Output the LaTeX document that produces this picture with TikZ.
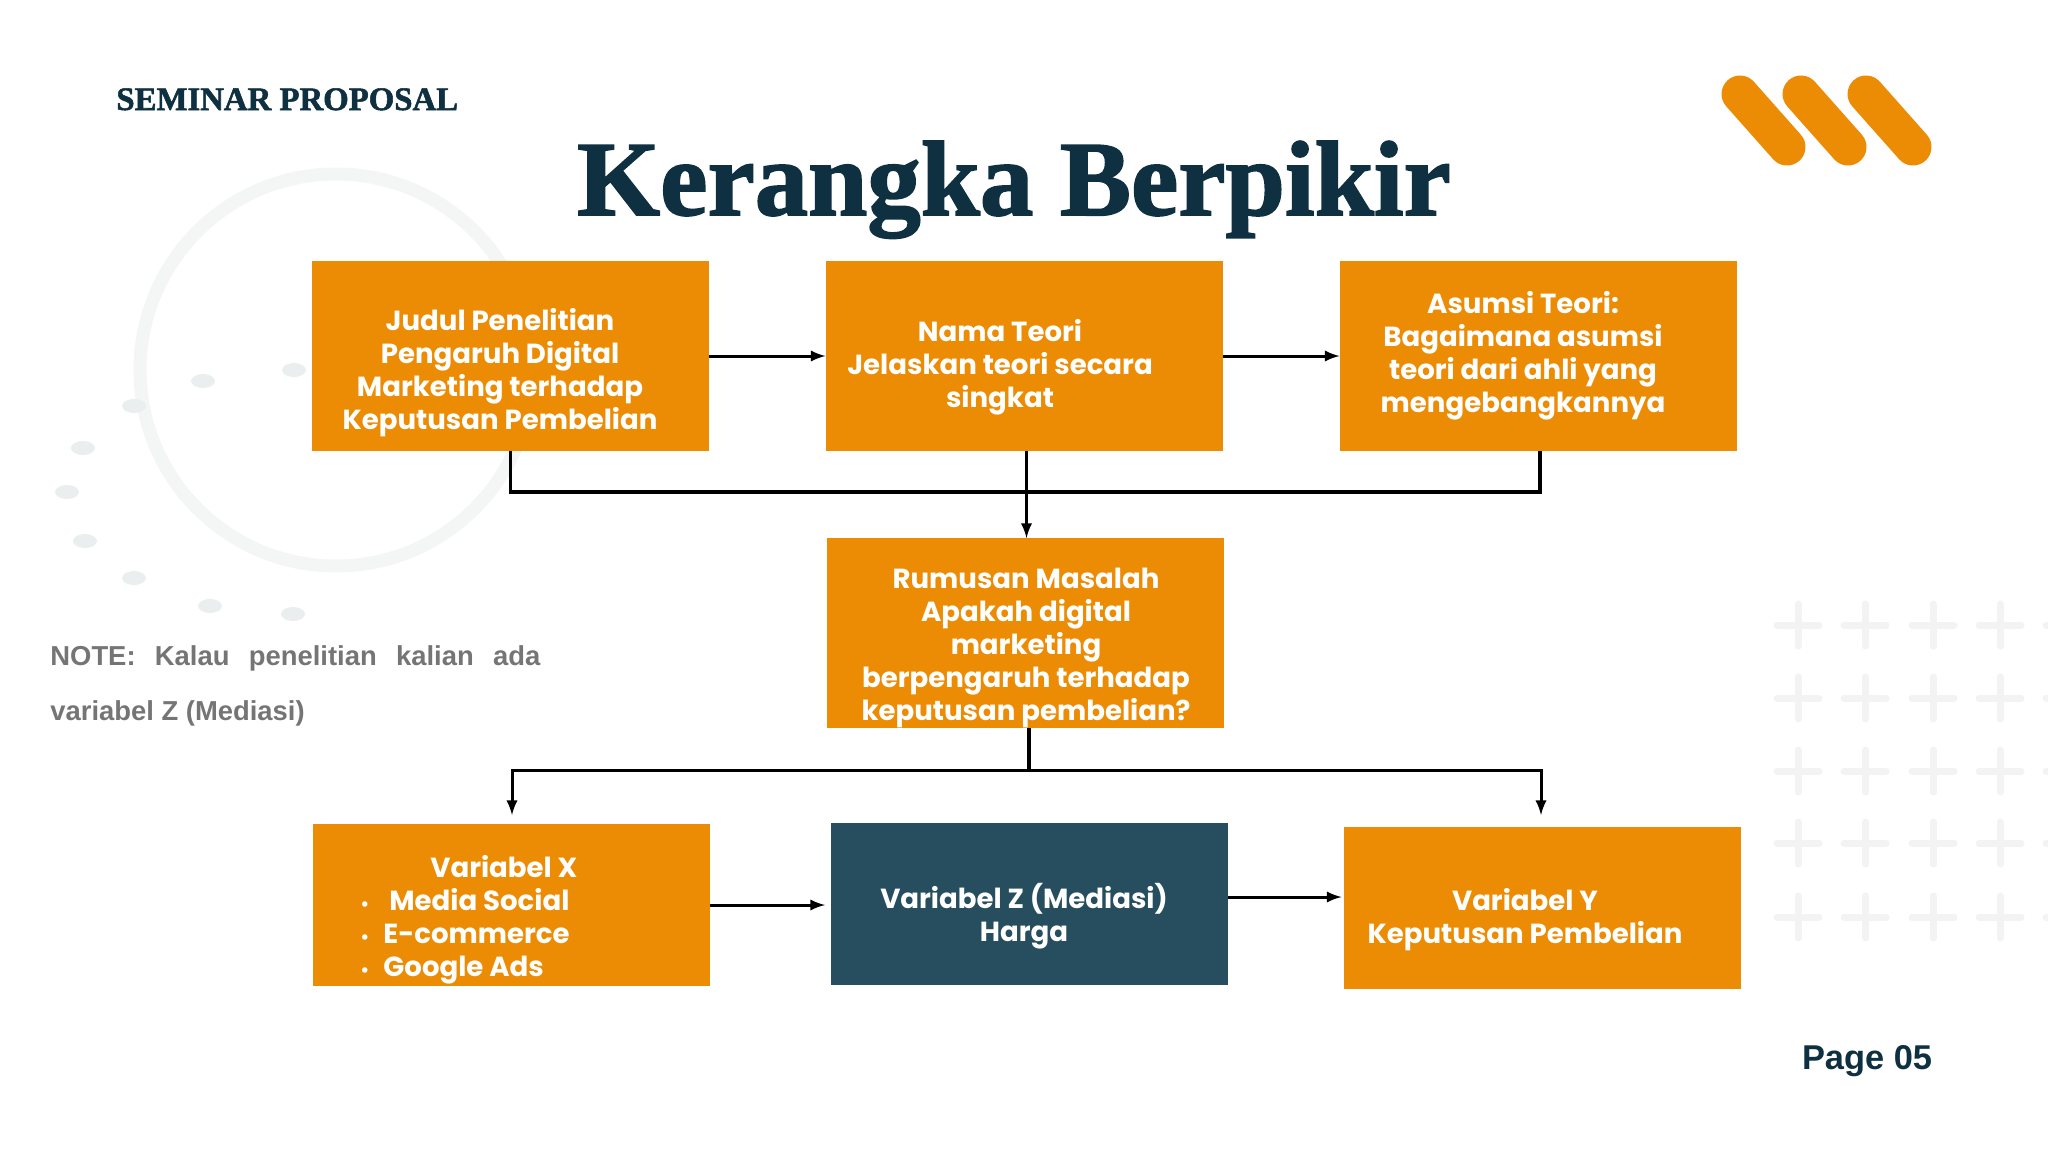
\documentclass[tikz,border=0pt]{standalone}
\usepackage{fontspec}
\setmainfont{Liberation Sans}
\newfontfamily\boxfont{Poppins}
\newfontfamily\headfont[BoldFeatures={FakeBold=1.6}]{Liberation Serif}
\usetikzlibrary{positioning}

\newcommand{\listdot}[1]{\makebox[#1][l]{\fontsize{9}{9}\selectfont•}}

\begin{document}
\begin{tikzpicture}[x=.5pt,y=-.5pt]
  % some colors
  \definecolor{amber}{HTML}{EC8C04}
  \definecolor{petrol}{HTML}{264E5F}
  \definecolor{ink}{HTML}{0E3040}
  \definecolor{notegray}{HTML}{757575}
  \definecolor{ringgray}{HTML}{F4F5F5}
  \definecolor{dotgray}{HTML}{EBEEEE}
  \definecolor{plusgray}{HTML}{F3F3F3}
  % some styles
  \tikzset{
    box/.style={
      minimum width=198.5pt,
      minimum height=#1,
      inner sep=0pt,
      outer sep=0pt,
      fill=amber,
    },
    boxtext/.style={
      inner sep=0pt,
      align=center,
      text=white,
      font=\boxfont\bfseries\fontsize{13.8}{16.5}\selectfont,
    },
    flow/.style={-latex,black,line width=1.5pt},
    joint/.style={black,line width=1.6pt},
    plusbar/.style={plusgray,line width=3.5pt,line cap=round},
  }
  \useasboundingbox (0,0) rectangle (2048,1152);
  \fill[white] (0,0) rectangle (2048,1152);
  % faint background
  \draw[ringgray,line width=6.5pt] (336,370) circle (196);
  \foreach \dotx/\doty in {294/370,203/381,134/406,83/448,67/492,85/541,134/578,210/606,293/614}
    \fill[dotgray] (\dotx,\doty) ellipse (12 and 7);
  \foreach \plusx in {1798,1865,1933,2000,2067}
    \foreach \plusy in {625,698,771,843,917} {
      \draw[plusbar] (\plusx-21,\plusy) -- (\plusx+21,\plusy);
      \draw[plusbar] (\plusx,\plusy-21) -- (\plusx,\plusy+21);
    }
  % logo
  \foreach \barx in {1740,1801,1866}
    \draw[amber,line width=18.5pt,line cap=round] (\barx,94) -- (\barx+47,147);
  % headings
  \node[anchor=base west,inner sep=0pt,text=ink,font=\headfont\bfseries\fontsize{16.4}{20}\selectfont] (seminar) at (116,110) {SEMINAR PROPOSAL};
  \node[anchor=base,inner sep=0pt,text=ink,font=\headfont\bfseries\fontsize{53.3}{60}\selectfont] (judulslide) at (1014,215) {Kerangka Berpikir};
  % note and page number
  \node[anchor=north west,inner sep=0pt,text width=245pt,align=justify,text=notegray,font=\bfseries\fontsize{13.7}{27.5}\selectfont] (note) at (50,645) {\hyphenpenalty=10000 NOTE: Kalau penelitian kalian ada variabel Z (Mediasi)};
  \node[inner sep=0pt,text=ink,font=\bfseries\fontsize{17.2}{20}\selectfont] (halaman) at (1867,1061) {Page 05};
  % boxes, top row
  \node[box=95pt] (judul) at (510.5,356) {};
  \node[box=95pt] (teori) at (1024,356) {};
  \node[box=95pt] (asumsi) at (1538,356) {};
  % boxes, middle and bottom row
  \node[box=95pt] (rumusan) at (1025.5,633) {};
  \node[box=81pt] (varx) at (511.5,905) {};
  \node[box=81pt,fill=petrol] (varz) at (1029.5,904) {};
  \node[box=81pt] (vary) at (1542,908) {};
  % box texts
  \node[boxtext] (judultext) at (500,373) {Judul Penelitian\\Pengaruh Digital\\Marketing terhadap\\Keputusan Pembelian};
  \node[boxtext] (teoritext) at (1000,367) {Nama Teori\\Jelaskan teori secara\\singkat};
  \node[boxtext] (asumsitext) at (1523,356) {Asumsi Teori:\\Bagaimana asumsi\\teori dari ahli yang\\mengebangkannya};
  \node[boxtext] (rumusantext) at (1026,648) {Rumusan Masalah\\Apakah digital\\marketing\\berpengaruh terhadap\\keputusan pembelian?};
  \node[boxtext,align=left,anchor=west] (varxtext) at (360,920) {\hspace*{35pt}Variabel X\\
    \listdot{14.5pt}Media Social\\
    \listdot{11.5pt}E-commerce\\
    \listdot{11.5pt}Google Ads};
  \node[boxtext] (varztext) at (1024,916) {Variabel Z (Mediasi)\\Harga};
  \node[boxtext] (varytext) at (1525,920) {Variabel Y\\Keputusan Pembelian};
  % connectors
  \coordinate (trunk) at (1026.5,492);
  \coordinate (split) at (1029,770);
  \coordinate (xin) at (512,815);
  \coordinate (yin) at (1541,815);
  \draw[flow] (judul) -- (teori);
  \draw[flow] (teori) -- (asumsi);
  \draw[joint] (judul.south) |- (trunk) -| ([xshift=1pt]asumsi.south);
  \draw[flow] (teori.south -| trunk) -- (rumusan.north -| trunk);
  \draw[joint] (rumusan.south -| split) -- (split);
  \draw[flow] (split) -| (xin);
  \draw[flow] (split) -| (yin);
  \draw[flow] (varx.east) -- ([xshift=-3pt]varx.east -| varz.west);
  \draw[flow] ([yshift=3.5pt]varz.east) -- ([yshift=3.5pt,xshift=-1pt]varz.east -| vary.west);
\end{tikzpicture}
\end{document}
